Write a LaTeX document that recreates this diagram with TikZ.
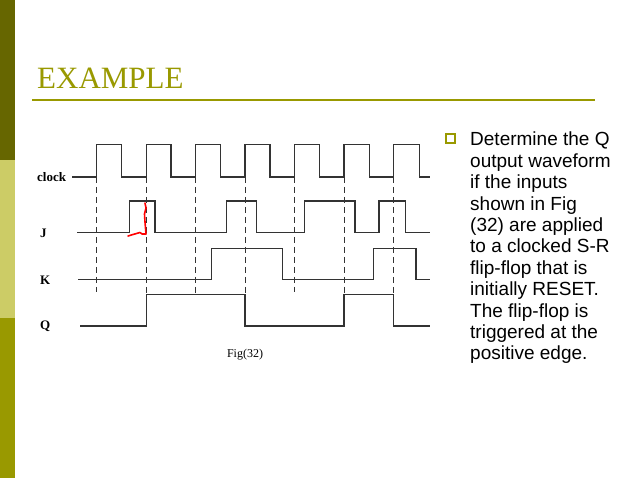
\documentclass[tikz,border=0pt]{standalone}
\usepackage{fontspec}
\setmainfont{Liberation Serif}
\setsansfont{Liberation Sans}
\definecolor{barA}{HTML}{666600}
\definecolor{barB}{HTML}{CCCC66}
\definecolor{barC}{HTML}{999900}
\definecolor{ttl}{HTML}{999900}
\definecolor{wave}{HTML}{333333}
\begin{document}
\begin{tikzpicture}[x=1pt,y=-1pt,
  sig/.style={draw=wave,line width=1.1pt},
  guide/.style={draw=wave,dashed,dash pattern=on 6pt off 4pt,line width=0.8pt},
  lbl/.style={font=\fontsize{13}{15}\selectfont\bfseries,anchor=west,inner sep=0pt},
  body/.style={font=\sffamily\fontsize{19}{21.4}\selectfont,align=left,anchor=north west,inner sep=0pt}]
\useasboundingbox (0,0) rectangle (638,478);
\fill[white] (0,0) rectangle (638,478);
\fill[barA] (0,0) rectangle (15,160);
\fill[barB] (0,160) rectangle (15,318);
\fill[barC] (0,318) rectangle (15,478);
\node[anchor=west,inner sep=0pt,text=ttl,font=\fontsize{31}{34}\selectfont] (title) at (37,78) {EXAMPLE};
\draw[ttl,line width=1.5pt] (32,100) -- (595,100);
% waveforms
\draw[sig] (72,177) -- (96.7,177) -- (96.7,144.3) -- (121.7,144.3) -- (121.7,177) -- (146.7,177) -- (146.7,144.3) -- (171,144.3) -- (171,177)
 -- (195.3,177) -- (195.3,144.3) -- (220.7,144.3) -- (220.7,177) -- (245,177) -- (245,144.3) -- (270,144.3) -- (270,177)
 -- (294.3,177) -- (294.3,144.3) -- (319.3,144.3) -- (319.3,177) -- (344,177) -- (344,144.3) -- (369.3,144.3) -- (369.3,177)
 -- (393.3,177) -- (393.3,144.3) -- (419.3,144.3) -- (419.3,177) -- (430,177);
\draw[sig] (77,232.3) -- (129.3,232.3) -- (129.3,201) -- (155,201) -- (155,232.3) -- (226.7,232.3) -- (226.7,201) -- (256.7,201) -- (256.7,232.3)
 -- (304.3,232.3) -- (304.3,201) -- (355,201) -- (355,232.3) -- (379,232.3) -- (379,201) -- (405.7,201) -- (405.7,232.3) -- (430,232.3);
\draw[sig] (78,279.3) -- (211.7,279.3) -- (211.7,248.3) -- (282.3,248.3) -- (282.3,279.3) -- (373.3,279.3) -- (373.3,248.3) -- (416,248.3) -- (416,279.3) -- (430,279.3);
\draw[sig] (80,326) -- (146.7,326) -- (146.7,294.3) -- (245,294.3) -- (245,326) -- (344,326) -- (344,294.3) -- (393.3,294.3) -- (393.3,326) -- (430,326);
% guides
\draw[guide] (96.7,177) -- (96.7,292);
\draw[guide] (146.7,177) -- (146.7,294.3);
\draw[guide] (195.3,177) -- (195.3,295);
\draw[guide] (245,177) -- (245,294.3);
\draw[guide] (294.3,177) -- (294.3,292);
\draw[guide] (344,177) -- (344,294.3);
\draw[guide] (393.3,177) -- (393.3,294.3);
% red scribble
\draw[red,line width=1.6pt,line cap=round,line join=round] (128,236) -- (133,234.5) -- (140,232.5) -- (142,234) -- (146,234) -- (145,222) -- (144.5,214) -- (146,208) -- (145,203);
% labels
\node[lbl] (lc) at (37,177) {clock};
\node[lbl] (lj) at (40,233) {J};
\node[lbl] (lk) at (40,280) {K};
\node[lbl] (lq) at (40,326) {Q};
\node[font=\fontsize{12}{14}\selectfont,inner sep=0pt] (fig) at (245,355) {Fig(32)};
% bullet + text
\draw[draw=barC,line width=1.4pt] (446,134) rectangle (455,143);
\node[body] (txt) at (470,132) {Determine the Q\\output waveform\\if the inputs\\shown in Fig\\(32) are applied\\to a clocked S-R\\flip-flop that is\\initially RESET.\\The flip-flop is\\triggered at the\\positive edge.};
\end{tikzpicture}
\end{document}
